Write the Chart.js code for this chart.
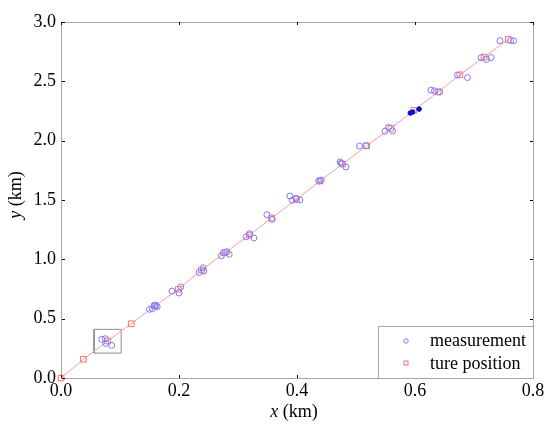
<!DOCTYPE html>
<html>
<head>
<meta charset="utf-8">
<script src="https://cdn.jsdelivr.net/npm/chart.js@4.4.0/dist/chart.umd.min.js"></script>
<style>
  html, body { margin: 0; padding: 0; background: #fff; }
</style>
</head>
<body>
<canvas id="trackChart" width="550" height="429"></canvas>
<script>
// true positions along the track (km)
const trueX = [0, 0.038, 0.079, 0.119, 0.159, 0.199, 0.238, 0.278, 0.319, 0.357,
               0.399, 0.439, 0.477, 0.518, 0.559, 0.598, 0.639, 0.676, 0.717, 0.758];
const trueY = [0, 0.158, 0.312, 0.457, 0.607, 0.748, 0.910, 1.056, 1.205, 1.348,
               1.505, 1.660, 1.803, 1.957, 2.104, 2.255, 2.410, 2.555, 2.704, 2.853];

// measurements (open circles)
const measX = [0.069, 0.075, 0.076, 0.086,
               0.150, 0.155, 0.158, 0.163, 0.161,
               0.188, 0.203, 0.200,
               0.234, 0.241, 0.242,
               0.272, 0.275, 0.281, 0.285,
               0.314, 0.320, 0.327,
               0.349, 0.358,
               0.388, 0.392, 0.398, 0.405,
               0.437, 0.441,
               0.473, 0.475, 0.483,
               0.506, 0.517,
               0.549, 0.555, 0.562,
               0.627, 0.633, 0.642,
               0.672, 0.689,
               0.712, 0.721, 0.729,
               0.744, 0.762, 0.767];
const measY = [0.326, 0.331, 0.292, 0.275,
               0.579, 0.584, 0.612, 0.601, 0.612,
               0.733, 0.767, 0.716,
               0.890, 0.929, 0.901,
               1.030, 1.053, 1.064, 1.042,
               1.190, 1.216, 1.180,
               1.376, 1.337,
               1.533, 1.497, 1.514, 1.500,
               1.660, 1.668,
               1.820, 1.810, 1.778,
               1.955, 1.957,
               2.080, 2.112, 2.083,
               2.426, 2.420, 2.412,
               2.553, 2.532,
               2.700, 2.684, 2.700,
               2.842, 2.844, 2.842];

// the dark filled measurements near x = 0.6
const denseX = [0.592, 0.596, 0.607];
const denseY = [2.233, 2.241, 2.266];

// zoom box around the third true position
const boxX = [0.056, 0.102, 0.102, 0.056, 0.056];
const boxY = [0.21, 0.21, 0.41, 0.41, 0.21];

const xTicks = [0, 0.2, 0.4, 0.6, 0.8];
const yTicks = [0, 0.5, 1.0, 1.5, 2.0, 2.5, 3.0];
const legendLabels = ['measurement', 'ture position'];

const SERIF = '"Liberation Serif", "Times New Roman", serif';
Chart.defaults.font.family = SERIF;
Chart.defaults.font.size = 18;
Chart.defaults.color = '#000';

function zipXY(xs, ys) {
	return xs.map((x, i) => ({ x: x, y: ys[i] }));
}

// frame, inner tick marks, axis titles and the boxed legend
const framePlugin = {
	id: 'frame',
	afterDraw(chart) {
		const ctx = chart.ctx;
		const a = chart.chartArea;
		const xs = chart.scales.x, ys = chart.scales.y;
		ctx.save();

		ctx.strokeStyle = '#a6a6a6';
		ctx.lineWidth = 1;
		ctx.strokeRect(a.left + 0.5, a.top + 0.5, a.right - a.left, a.bottom - a.top);

		ctx.strokeStyle = '#000';
		ctx.beginPath();
		xTicks.forEach(v => {
			const px = Math.round(xs.getPixelForValue(v)) + 0.5;
			ctx.moveTo(px, a.bottom); ctx.lineTo(px, a.bottom - 3);
			ctx.moveTo(px, a.top); ctx.lineTo(px, a.top + 3);
		});
		yTicks.forEach(v => {
			const py = Math.round(ys.getPixelForValue(v)) + 0.5;
			ctx.moveTo(a.left + 1, py); ctx.lineTo(a.left + 4, py);
			ctx.moveTo(a.right, py); ctx.lineTo(a.right - 3, py);
		});
		ctx.stroke();

		// axis titles: italic variable, upright unit
		ctx.fillStyle = '#000';
		ctx.textBaseline = 'middle';
		const drawTitle = (cx, cy, v) => {
			ctx.font = 'italic 18px ' + SERIF;
			const w1 = ctx.measureText(v).width;
			ctx.font = '18px ' + SERIF;
			const w2 = ctx.measureText(' (km)').width;
			let x0 = cx - (w1 + w2) / 2;
			ctx.textAlign = 'left';
			ctx.font = 'italic 18px ' + SERIF;
			ctx.fillText(v, x0, cy);
			ctx.font = '18px ' + SERIF;
			ctx.fillText(' (km)', x0 + w1, cy);
		};
		drawTitle((a.left + a.right) / 2 - 3, 412, 'x');
		ctx.save();
		ctx.translate(16, (a.top + a.bottom) / 2 - 5);
		ctx.rotate(-Math.PI / 2);
		drawTitle(0, 0, 'y');
		ctx.restore();

		// legend box in the lower right corner
		const bw = 155, bh = 52;
		const bx = a.right - bw, by = a.bottom - bh;
		ctx.fillStyle = '#fff';
		ctx.fillRect(bx, by, bw, bh);
		ctx.strokeStyle = '#a6a6a6';
		ctx.strokeRect(bx + 0.5, by + 0.5, bw, bh);
		const meas = chart.data.datasets[0], tru = chart.data.datasets[2];
		ctx.lineWidth = 1;
		ctx.strokeStyle = meas.pointBorderColor;
		ctx.beginPath();
		ctx.arc(bx + 28, by + 15, 2.2, 0, Math.PI * 2);
		ctx.stroke();
		ctx.strokeStyle = tru.pointBorderColor;
		ctx.strokeRect(bx + 26, by + 35, 4, 4);
		ctx.fillStyle = '#000';
		ctx.font = '18px ' + SERIF;
		ctx.textAlign = 'left';
		ctx.fillText(legendLabels[0], bx + 52, by + 15);
		ctx.fillText(legendLabels[1], bx + 52, by + 38);

		ctx.restore();
	}
};

const chart = new Chart(document.getElementById('trackChart'), {
	type: 'scatter',
	data: {
		datasets: [
			{
				label: legendLabels[0],
				data: zipXY(measX, measY),
				pointStyle: 'circle',
				pointRadius: 3,
				pointBorderWidth: 1,
				pointBorderColor: '#7b7bff',
				pointBackgroundColor: 'rgba(0,0,0,0)'
			},
			{
				label: 'dense',
				data: zipXY(denseX, denseY),
				pointStyle: 'circle',
				pointRadius: 2.3,
				pointBorderWidth: 1,
				pointBorderColor: '#0a0ad0',
				pointBackgroundColor: '#0a0ad0'
			},
			{
				label: legendLabels[1],
				data: zipXY(trueX, trueY),
				showLine: true,
				borderColor: '#ff9c9c',
				borderWidth: 1,
				pointStyle: 'rect',
				pointRadius: 4,
				pointBorderWidth: 1,
				pointBorderColor: '#ff6f6f',
				pointBackgroundColor: 'rgba(0,0,0,0)',
				clip: false
			},
			{
				label: 'box',
				data: zipXY(boxX, boxY),
				showLine: true,
				borderColor: '#8c8c8c',
				borderWidth: 1,
				pointRadius: 0
			}
		]
	},
	options: {
		responsive: false,
		animation: false,
		events: [],
		layout: { padding: { left: 0, right: 17, top: 22, bottom: 0 } },
		plugins: {
			legend: { display: false },
			tooltip: { enabled: false }
		},
		scales: {
			x: {
				type: 'linear',
				min: 0, max: 0.8,
				afterBuildTicks: s => { s.ticks = xTicks.map(v => ({ value: v })); },
				afterFit: s => { s.height = 51; },
				grid: { display: false, drawTicks: false },
				border: { display: false },
				ticks: { padding: 2, callback: v => v.toFixed(1) }
			},
			y: {
				type: 'linear',
				min: 0, max: 3,
				afterBuildTicks: s => { s.ticks = yTicks.map(v => ({ value: v })); },
				afterFit: s => { s.width = 61; },
				grid: { display: false, drawTicks: false },
				border: { display: false },
				ticks: { padding: 5, callback: v => v.toFixed(1) }
			}
		}
	},
	plugins: [framePlugin]
});
</script>
</body>
</html>
